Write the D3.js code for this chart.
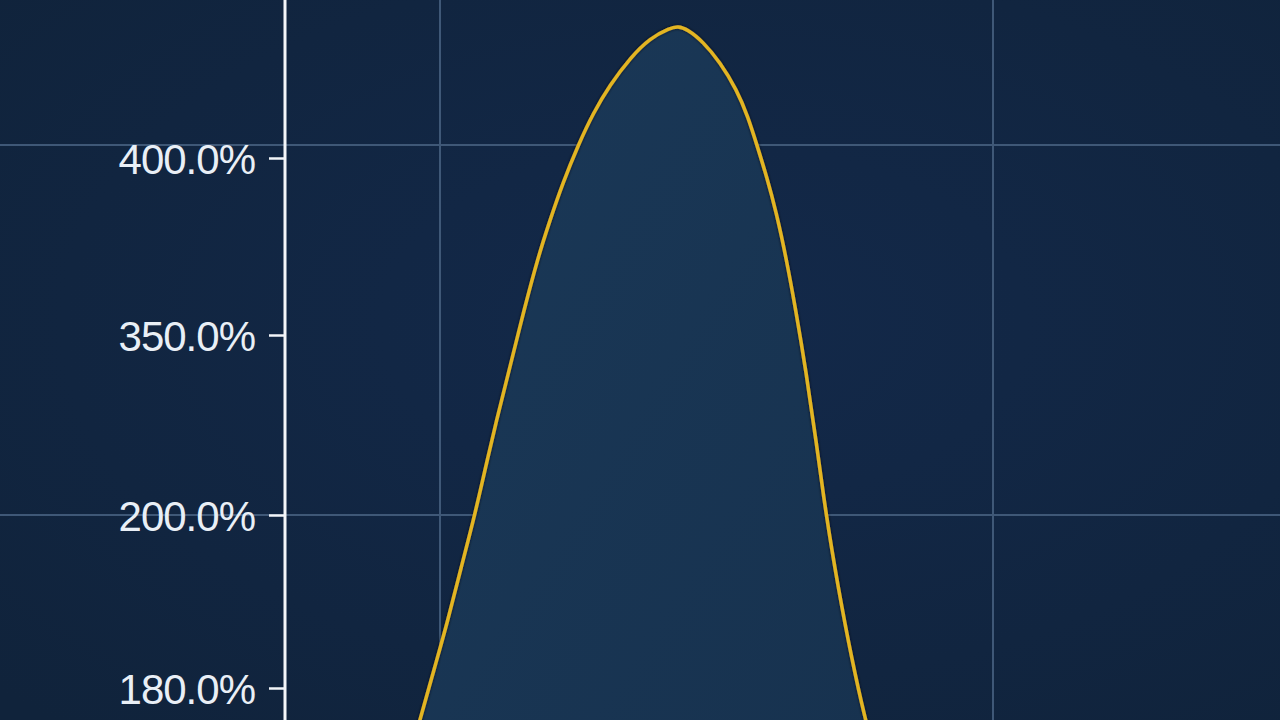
<!DOCTYPE html>
<html>
<head>
    <title>Peak curve</title>
    <script src="https://d3js.org/d3.v7.min.js"></script>
    <style>
        html, body { margin: 0; padding: 0; background: #11253e; overflow: hidden; }
        .tick text {
            font-family: "Liberation Sans", Arial, sans-serif;
            font-size: 42px;
            letter-spacing: -1px;
            fill: #e9eff6;
        }
        .tick line { stroke: #f2f5f8; stroke-width: 2.5; }
        .grid line { stroke: #3f5877; stroke-width: 2; }
    </style>
</head>
<body>
    <div id="chart"></div>
    <script>
        const W = 1280, H = 720;
        const margin = {top: 0, right: 0, bottom: 0, left: 285};

        // y tick labels (the axis is not evenly scaled, labels sit at equal spacing)
        const yTicks = [180, 200, 350, 400];
        // horizontal / vertical grid lines, in data units
        const yGrid = [403.7, 200];
        const xGrid = [1, 2];

        // curve
        const xs = [0.944, 0.964, 0.989, 1.013, 1.038, 1.063, 1.085, 1.105, 1.127, 1.152,
                    1.177, 1.199, 1.222, 1.250, 1.277, 1.307, 1.344, 1.380, 1.416, 1.430,
                    1.447, 1.476, 1.506, 1.537, 1.557, 1.573, 1.591, 1.608, 1.626, 1.644,
                    1.662, 1.680, 1.698, 1.720, 1.744, 1.769, 1.788];
        const ys = [172.0, 176.3, 182.1, 187.5, 193.9, 200, 245.0, 284.2, 324.2, 357.1,
                    371.8, 382.5, 392.9, 403.7, 412.7, 420.6, 428.3, 433.9, 436.7, 437.2,
                    436.4, 432.8, 427.1, 419.2, 411.6, 403.7, 394.6, 384.7, 371.8, 356.5,
                    319.2, 262.5, 200, 191.6, 183.5, 176.3, 172.0];
        const points = xs.map((x, i) => ({x, y: ys[i]}));

        const svg = d3.select("#chart")
            .append("svg")
            .attr("width", W)
            .attr("height", H);

        const defs = svg.append("defs");
        const bg = defs.append("radialGradient").attr("id", "bg")
            .attr("cx", "55%").attr("cy", "45%").attr("r", "75%");
        bg.append("stop").attr("offset", "0%").attr("stop-color", "#13294a");
        bg.append("stop").attr("offset", "100%").attr("stop-color", "#10233b");

        const fillGrad = defs.append("linearGradient").attr("id", "fillGrad")
            .attr("x1", "0").attr("y1", "0").attr("x2", "1").attr("y2", "1");
        fillGrad.append("stop").attr("offset", "0%").attr("stop-color", "#1a3857");
        fillGrad.append("stop").attr("offset", "100%").attr("stop-color", "#17324f");

        const shadow = defs.append("filter").attr("id", "shadow")
            .attr("x", "-10%").attr("y", "-10%").attr("width", "120%").attr("height", "120%");
        shadow.append("feDropShadow")
            .attr("dx", 0).attr("dy", 0).attr("stdDeviation", 1.5)
            .attr("flood-color", "#050d18").attr("flood-opacity", 0.8);

        svg.append("rect").attr("width", W).attr("height", H).attr("fill", "url(#bg)");

        // scales
        const x = d3.scaleLinear().domain([1, 2]).range([440, 993]);
        const y = d3.scaleLinear().domain(yTicks).range([688, 515, 335, 158]);

        // grid
        const grid = svg.append("g").attr("class", "grid");
        grid.selectAll(".hg").data(yGrid).join("line")
            .attr("x1", 0).attr("x2", W)
            .attr("y1", d => y(d)).attr("y2", d => y(d));
        grid.selectAll(".vg").data(xGrid).join("line")
            .attr("x1", d => x(d)).attr("x2", d => x(d))
            .attr("y1", 0).attr("y2", H);

        // area + curve
        const area = d3.area()
            .x(d => x(d.x))
            .y0(H + 20)
            .y1(d => y(d.y))
            .curve(d3.curveBasis);
        const line = d3.line()
            .x(d => x(d.x))
            .y(d => y(d.y))
            .curve(d3.curveBasis);

        svg.append("path").datum(points)
            .attr("d", area)
            .attr("fill", "url(#fillGrad)");
        svg.append("path").datum(points)
            .attr("d", line)
            .attr("fill", "none")
            .attr("stroke", "#e3b524")
            .attr("stroke-width", 3.5)
            .attr("filter", "url(#shadow)");

        // y axis
        const yAxis = svg.append("g")
            .attr("transform", `translate(${margin.left},0)`)
            .call(d3.axisLeft(y)
                .tickValues(yTicks)
                .tickSize(16)
                .tickPadding(14)
                .tickFormat(d => d3.format(".1f")(d) + "%"));
        yAxis.select(".domain").remove();
        yAxis.selectAll(".tick text").attr("dy", "0.36em");

        svg.append("line")
            .attr("x1", margin.left).attr("x2", margin.left)
            .attr("y1", 0).attr("y2", H)
            .attr("stroke", "#f4f6f9")
            .attr("stroke-width", 3);
    </script>
</body>
</html>
